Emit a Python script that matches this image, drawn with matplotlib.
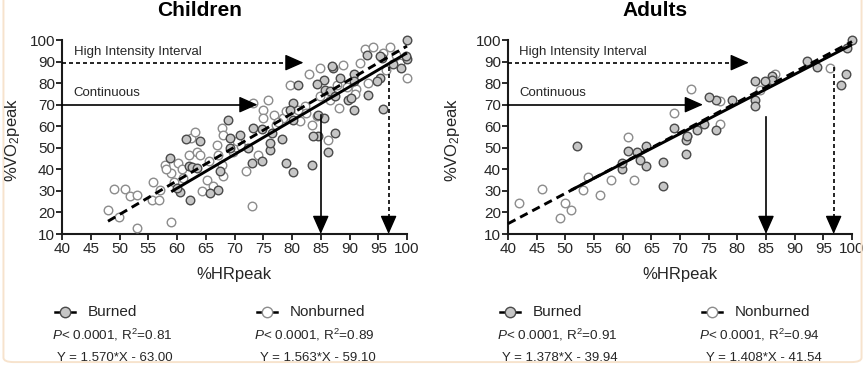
import matplotlib
matplotlib.use("Agg")
import matplotlib.pyplot as plt
import numpy as np
from matplotlib.lines import Line2D
from matplotlib.patches import FancyBboxPatch

plt.rcParams['font.family'] = ['Liberation Sans', 'DejaVu Sans']
plt.rcParams['mathtext.fontset'] = 'custom'
plt.rcParams['mathtext.rm'] = 'Liberation Sans'
plt.rcParams['mathtext.it'] = 'Liberation Sans:italic'

# --- data ---
child_burned_x = [100, 100, 99.8, 99, 97.5, 95.6, 95.3, 93, 95.3, 94.7, 95.8, 93.3, 90.7, 90.7,
                  90.8, 89.8, 90.3, 88.3, 87.2, 86.9, 85.5, 84.3, 85.7, 86.6, 87.5, 81.1, 80.2,
                  79.7, 80.2, 84.6, 83.7, 85.5, 84.6, 86.2, 87.5, 83.4, 79, 80.2, 78.2, 76.2,
                  76.2, 76.5, 74.7, 73.3, 74.7, 73, 72.4, 71, 68.9, 69.2, 69.2, 67.5, 67.2,
                  65.7, 64, 61.6, 62, 62.6, 63.4, 62.3, 60.5, 58.8, 60]
child_burned_y = [100, 91, 92.5, 87, 89, 91.6, 92.5, 93, 82.4, 81, 68, 74.7, 84.4, 81,
                  67.7, 72.3, 73, 82.4, 87, 87.8, 81.3, 79.8, 77, 76.2, 74, 79.3, 71,
                  67.7, 63, 55.3, 55.3, 63.8, 65, 48, 57, 41.9, 43, 38.6, 54, 48.8,
                  52.2, 57, 58.7, 59.2, 43.7, 43, 50, 56, 62.8, 54.6, 50, 39, 30.6,
                  29, 53, 54, 41.4, 41, 40.6, 26, 29.4, 45.3, 31.4]
child_non_x = [48, 49, 49.9, 51, 51.8, 53, 53, 55.9, 55.6, 56.8, 57, 57.9, 59, 59, 59.4, 60.2,
               60.8, 62, 62.5, 63.1, 63.4, 64, 64.3, 65.2, 66.3, 66.9, 67.2, 67.8, 68, 68,
               67.8, 69.8, 70.2, 71.2, 72, 73, 73.3, 74.1, 75, 75, 75.9, 76.8, 77.3, 78.4,
               79, 79.7, 81, 81.4, 82.2, 83, 83.4, 84.3, 84.9, 84.9, 86.3, 86.6, 87.8, 88.1,
               88.9, 89.5, 91.2, 91.8, 92.7, 94, 93.3, 97, 95.9, 98, 100, 98.8, 96.3, 91,
               70.5, 65.5, 61, 58, 77.5, 82.5]
child_non_y = [21.3, 31, 18, 31, 27.5, 28.3, 13, 34, 26, 25.7, 30.6, 42.2, 15.5, 38.3, 34, 43,
               40, 46.8, 54.5, 57.2, 48, 46.8, 30, 35.2, 32.1, 51.5, 46.8, 59.2, 56, 36.8,
               42, 47.9, 50.5, 50.7, 39, 23.2, 70.8, 46.8, 67.7, 63.8, 72.3, 65.4, 60.7, 63.8,
               67, 79.3, 67.7, 62.3, 69.2, 84.4, 60.7, 64.6, 87, 73.9, 53.8, 72.3, 79.3, 68.5,
               88.6, 78.2, 77.3, 89.3, 95.8, 96.6, 80, 96.6, 94, 93.2, 82.4, 89.3, 86, 75,
               53, 44, 36, 40, 62, 66]

adult_burned_x = [100, 99.1, 99, 98, 93.9, 92.2, 86, 86, 84.9, 83.1, 83.1, 83.1, 79.1, 76.2,
                  75, 76.2, 74.1, 73, 71, 71, 69, 67, 67, 64, 64, 63, 61, 59.9, 59.9, 52, 62.5, 71.2]
adult_burned_y = [100, 96.3, 84.4, 79.1, 87.3, 90.1, 83.5, 81.6, 81.1, 81.1, 72.3, 69.2, 72.3, 72.3,
                  73.4, 58.4, 61.2, 58.4, 53.8, 47.3, 59.2, 43.3, 32.1, 51, 41.4, 44.2, 48.4, 40.2,
                  43, 51, 48, 55.5]
adult_non_x = [41.9, 46, 49.1, 50, 51, 53, 54, 56, 58, 61, 62, 69, 72, 71.2, 77, 77, 96.1, 86.5, 84]
adult_non_y = [24.4, 31, 17.2, 24.4, 21, 30.3, 36.3, 28.3, 35.2, 55, 35.2, 66.2, 77.3, 55.6, 61.2,
               71.5, 87, 84, 77]

# regression lines (slope, intercept, x start, x end)
child_fit_burned = [1.570, -63.00, 59, 100]
child_fit_non = [1.563, -59.10, 48, 100]
adult_fit_burned = [1.378, -39.94, 51, 100]
adult_fit_non = [1.408, -41.54, 40, 100]

x_ticks = list(range(40, 101, 5))
y_ticks = list(range(10, 101, 10))

legend_p = {'Children': ['0.81', '0.89'], 'Adults': ['0.91', '0.94']}
legend_eq = {'Children': ['Y = 1.570*X - 63.00', 'Y = 1.563*X - 59.10'],
             'Adults': ['Y = 1.378*X - 39.94', 'Y = 1.408*X - 41.54']}

BURNED_FACE = '#c6c6c6'
BURNED_EDGE = '#4a4a4a'
NON_EDGE = '#8c8c8c'
TXT = '#262626'

W, H = 865, 365
fig = plt.figure(figsize=(W / 100, H / 100), dpi=100)
fig.patch.set_facecolor('white')

# faint rounded frame around the figure
frame = FancyBboxPatch((0.004, 0.008), 0.992, 1.2, boxstyle="round,pad=0,rounding_size=0.012",
                       transform=fig.transFigure, facecolor='none', edgecolor='#f7e3cd', lw=1.4)
fig.add_artist(frame)


def px(x, y):
    return x / W, 1 - y / H


def draw_line(ax, fit, style):
    xs = np.array([fit[2], fit[3]])
    ys = fit[0] * xs + fit[1]
    if style == 'solid':
        ax.plot(xs, ys, color='black', lw=2.1, solid_capstyle='butt', zorder=5, clip_on=False)
    else:
        ax.plot(xs, ys, color='black', lw=2.1, dashes=(2.9, 1.8), dash_capstyle='butt',
                zorder=5, clip_on=False)


def arrow(ax, x0, y0, x1, y1, dashed=False):
    kw = dict(color='black', lw=1.2, zorder=6, clip_on=False)
    # shaft stops at arrowhead base
    if x0 == x1:
        base = (x1, y1 + 3.4)
    else:
        base = (x1 - 2.0, y1)
    if dashed:
        ax.plot([x0, base[0]], [y0, base[1]], dashes=(2.4, 1.8), **kw)
    else:
        ax.plot([x0, base[0]], [y0, base[1]], **kw)
    ax.annotate('', xy=(x1, y1), xytext=base,
                arrowprops=dict(arrowstyle='-|>,head_length=0.95,head_width=0.42',
                                color='black', lw=1.0, shrinkA=0, shrinkB=0,
                                mutation_scale=12), annotation_clip=False, zorder=7)


def panel(ax, bx, by, nx, ny, fit_b, fit_n, vtop):
    ax.scatter(nx, ny, s=38, facecolor='white', edgecolor=NON_EDGE, linewidth=1.0,
               zorder=3, clip_on=False)
    ax.scatter(bx, by, s=38, facecolor=BURNED_FACE, edgecolor=BURNED_EDGE, linewidth=1.0,
               zorder=4, clip_on=False)
    draw_line(ax, fit_n, 'dashed')
    draw_line(ax, fit_b, 'solid')

    arrow(ax, 40, 89.5, 82, 89.5, dashed=True)
    arrow(ax, 40, 70, 74, 70)
    arrow(ax, 85, vtop, 85, 10)
    arrow(ax, 96.8, 87.5, 96.8, 10, dashed=True)
    ax.text(42, 94.5, 'High Intensity Interval', fontsize=9.5, color=TXT, va='center')
    ax.text(42, 75.5, 'Continuous', fontsize=9.5, color=TXT, va='center')

    ax.set_xlim(40, 100)
    ax.set_ylim(10, 100)
    ax.set_xticks(x_ticks)
    ax.set_yticks(y_ticks)
    for s in ['top', 'right']:
        ax.spines[s].set_visible(False)
    for s in ['left', 'bottom']:
        ax.spines[s].set_linewidth(1.5)
        ax.spines[s].set_color('#1a1a1a')
    ax.tick_params(direction='out', length=4, width=1.3, colors='#1a1a1a',
                   labelsize=11, labelcolor=TXT)
    ax.tick_params(axis='x', pad=2)
    ax.tick_params(axis='y', pad=1)
    ax.set_facecolor('none')


ax1 = fig.add_axes([62 / W, 1 - 234 / H, 345 / W, 194 / H])
ax2 = fig.add_axes([508 / W, 1 - 234 / H, 344 / W, 194 / H])
panel(ax1, child_burned_x, child_burned_y, child_non_x, child_non_y,
      child_fit_burned, child_fit_non, 65)
panel(ax2, adult_burned_x, adult_burned_y, adult_non_x, adult_non_y,
      adult_fit_burned, adult_fit_non, 64.3)

# titles and axis labels
fig.text(*px(200, 10), 'Children', fontsize=15, fontweight='bold', ha='center', va='center', color='black')
fig.text(*px(655, 10), 'Adults', fontsize=15, fontweight='bold', ha='center', va='center', color='black')
for cx in [234, 680]:
    fig.text(*px(cx, 275), '%HRpeak', fontsize=12, ha='center', va='center', color=TXT)
for cx in [12, 453]:
    fig.text(*px(cx, 140), '%VO$_2$peak', fontsize=12, ha='center', va='center',
             rotation=90, color=TXT)

# legend blocks below each panel
legend_pos = {'Children': [(65, 88, 112, 115), (267, 290, 314, 318)],
              'Adults': [(510, 533, 557, 560), (712, 735, 759, 764)]}
names = ['Burned', 'Nonburned']
faces = [BURNED_FACE, 'white']
edges = [BURNED_EDGE, NON_EDGE]
for grp in ['Children', 'Adults']:
    for i in range(2):
        mx, tx, pcx, ecx = legend_pos[grp][i]
        x0, y0 = px(mx - 10, 312)
        x1, _ = px(mx + 10, 312)
        fig.add_artist(Line2D([x0, x1], [y0, y0], transform=fig.transFigure,
                              color='black', lw=1.8))
        mxf, myf = px(mx, 312)
        fig.add_artist(Line2D([mxf], [myf], transform=fig.transFigure, marker='o',
                              markersize=7.5, markerfacecolor=faces[i],
                              markeredgecolor=edges[i], markeredgewidth=1.0, lw=0))
        fig.text(*px(tx, 312), names[i], fontsize=11, ha='left', va='center', color=TXT)
        fig.text(*px(pcx, 335), r'$\it{P}$< 0.0001, R$^2$=' + legend_p[grp][i],
                 fontsize=9.7, ha='center', va='center', color=TXT)
        fig.text(*px(ecx, 358), legend_eq[grp][i], fontsize=9.5, ha='center',
                 va='center', color=TXT)

fig.savefig('out.png', dpi=100)
